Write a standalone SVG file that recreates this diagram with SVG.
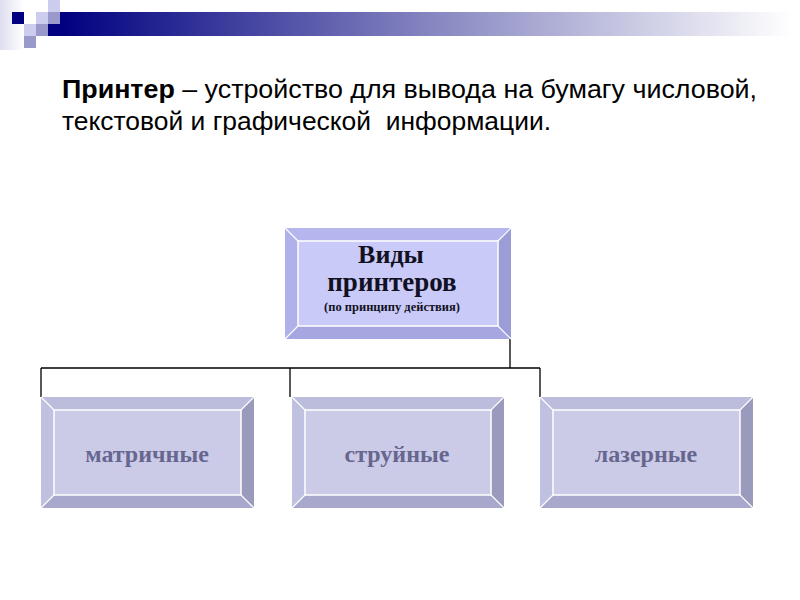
<svg xmlns="http://www.w3.org/2000/svg" width="800" height="600" viewBox="0 0 800 600">
<defs>
<linearGradient id="band" x1="0" y1="0" x2="1" y2="0">
<stop offset="0" stop-color="#000080"/>
<stop offset="0.5" stop-color="#8484c0"/>
<stop offset="1" stop-color="#ffffff"/>
</linearGradient>
<linearGradient id="faint" x1="0" y1="0" x2="1" y2="0">
<stop offset="0" stop-color="#dedef0"/>
<stop offset="1" stop-color="#ffffff"/>
</linearGradient>
<style>
.title{font-family:"Liberation Sans",Arial,sans-serif;font-size:26.5px;fill:#000}
.t1 .face{fill:#cacaf8;stroke:#fff;stroke-width:1.5}
.t1 .top{fill:#b6b6ee}.t1 .left{fill:#b0b0ea}.t1 .right{fill:#9c9cd6}.t1 .bottom{fill:#a6a6e0}
.t2 .face{fill:#cbcbe7;stroke:#fff;stroke-width:1.5}
.t2 .top{fill:#bcbcdc}.t2 .left{fill:#c0c0e0}.t2 .right{fill:#9a9abc}.t2 .bottom{fill:#a8a8cc}
.diag{stroke:#fff;stroke-width:1.2}
.hd{font-family:"Liberation Serif","Times New Roman",serif;font-weight:bold;fill:#111122;text-anchor:middle}
.lbl{font-family:"Liberation Serif","Times New Roman",serif;font-weight:bold;font-size:24px;fill:#66668f;text-anchor:middle}
.conn{stroke:#000;stroke-width:1.3;fill:none}
</style>
</defs>
<rect width="800" height="600" fill="#fff"/>
<g id="banner">
<rect x="0" y="0" width="24" height="50" fill="url(#faint)"/>
<rect x="60" y="12" width="732" height="24" fill="url(#band)"/>
<rect x="48" y="24" width="12" height="12" fill="#000080"/>
<rect x="12" y="12" width="12" height="12" fill="#000080"/>
<rect x="48" y="0" width="12" height="12" fill="#ccccee"/>
<rect x="36" y="12" width="12" height="12" fill="#ccccee"/>
<rect x="24" y="24" width="12" height="12" fill="#ccccee"/>
<rect x="48" y="12" width="12" height="12" fill="#9999cc"/>
<rect x="36" y="24" width="12" height="12" fill="#9999cc"/>
<rect x="24" y="36" width="12" height="12" fill="#9999cc"/>
</g>
<g id="title">
<text class="title" x="62" y="98" textLength="695" lengthAdjust="spacingAndGlyphs"><tspan font-weight="bold">Принтер</tspan> – устройство для вывода на бумагу числовой,</text>
<text class="title" x="62" y="130" xml:space="preserve" textLength="489" lengthAdjust="spacingAndGlyphs">текстовой и графической  информации.</text>
</g>
<g id="connectors">
<path class="conn" d="M510,339 V368 M41,368 H540 M41,368 V397 M290,368 V397 M540,368 V397"/>
</g>
<g id="root" class="t1">
<polygon class="top" points="285,228 511,228 498,241 298,241"/>
<polygon class="left" points="285,228 298,241 298,326 285,339"/>
<polygon class="right" points="511,228 511,339 498,326 498,241"/>
<polygon class="bottom" points="285,339 298,326 498,326 511,339"/>
<path class="diag" d="M285,228 L298,241 M511,228 L498,241 M285,339 L298,326 M511,339 L498,326"/>
<rect class="face" x="298" y="241" width="200" height="85"/>
<text class="hd" x="391" y="263" font-size="26">Виды</text>
<text class="hd" x="392" y="291" font-size="27">принтеров</text>
<text class="hd" x="392" y="311" font-size="12.5">(по принципу действия)</text>
</g>
<g id="matrix" class="t2">
<polygon class="top" points="41,397 254,397 241,410 54,410"/>
<polygon class="left" points="41,397 54,410 54,495 41,508"/>
<polygon class="right" points="254,397 254,508 241,495 241,410"/>
<polygon class="bottom" points="41,508 54,495 241,495 254,508"/>
<path class="diag" d="M41,397 L54,410 M254,397 L241,410 M41,508 L54,495 M254,508 L241,495"/>
<rect class="face" x="54" y="410" width="187" height="85"/>
<text class="lbl" x="147" y="462">матричные</text>
</g>
<g id="inkjet" class="t2">
<polygon class="top" points="292,397 504,397 491,410 305,410"/>
<polygon class="left" points="292,397 305,410 305,495 292,508"/>
<polygon class="right" points="504,397 504,508 491,495 491,410"/>
<polygon class="bottom" points="292,508 305,495 491,495 504,508"/>
<path class="diag" d="M292,397 L305,410 M504,397 L491,410 M292,508 L305,495 M504,508 L491,495"/>
<rect class="face" x="305" y="410" width="186" height="85"/>
<text class="lbl" x="397" y="462">струйные</text>
</g>
<g id="laser" class="t2">
<polygon class="top" points="540,397 753,397 740,410 553,410"/>
<polygon class="left" points="540,397 553,410 553,495 540,508"/>
<polygon class="right" points="753,397 753,508 740,495 740,410"/>
<polygon class="bottom" points="540,508 553,495 740,495 753,508"/>
<path class="diag" d="M540,397 L553,410 M753,397 L740,410 M540,508 L553,495 M753,508 L740,495"/>
<rect class="face" x="553" y="410" width="187" height="85"/>
<text class="lbl" x="646" y="462">лазерные</text>
</g>
</svg>
